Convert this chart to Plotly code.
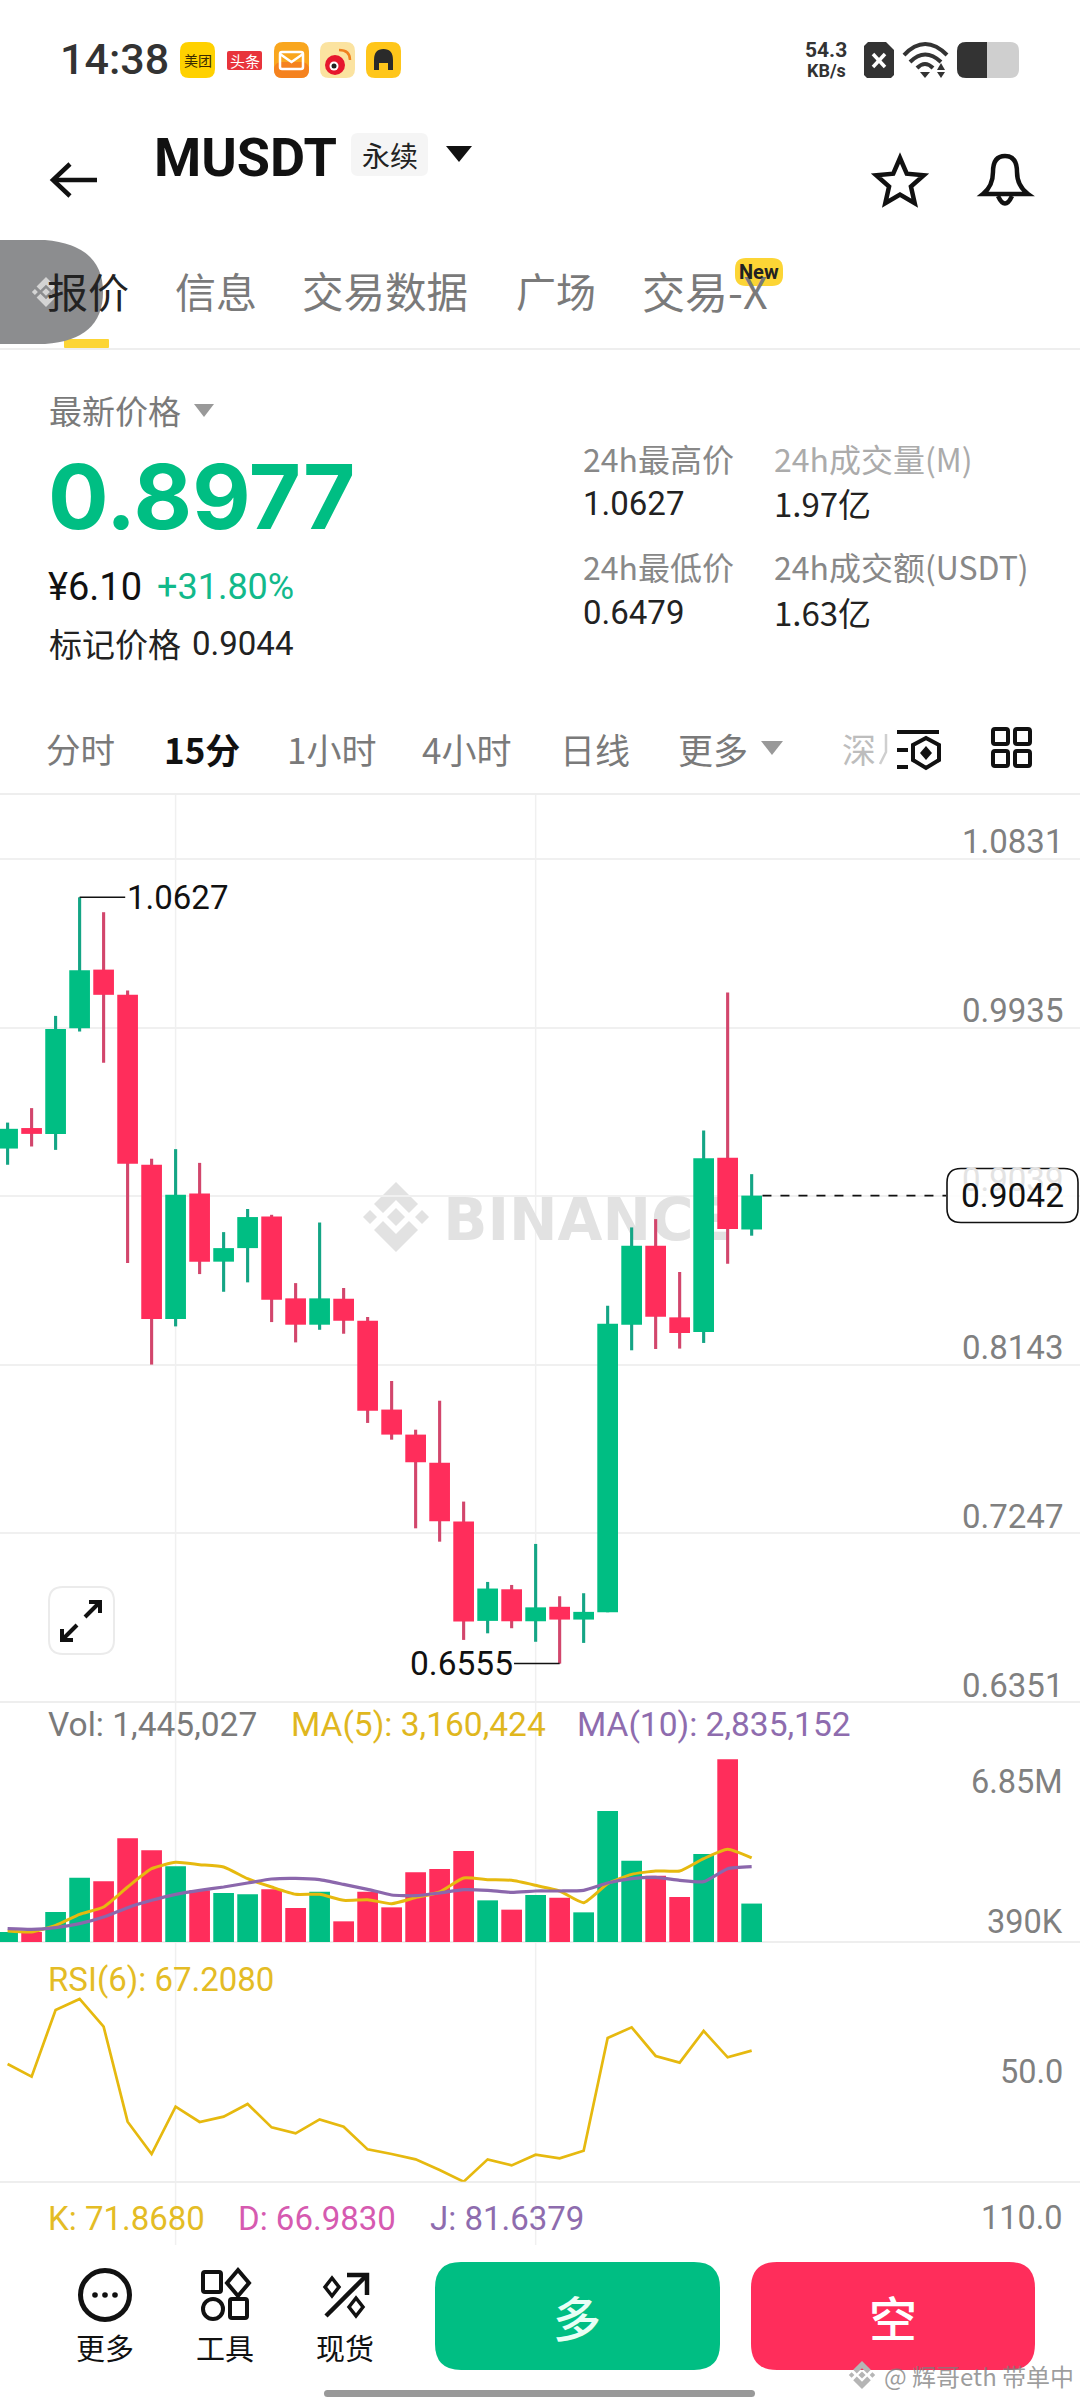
import math
import plotly.graph_objects as go

W = 1080
H = 2400
FONTE = "Roboto, 'Noto Sans CJK SC', sans-serif"
FONTE_CJK = "'Noto Sans CJK SC', Roboto, sans-serif"

VERDE = '#00BE83'
VERMELHO = '#FF2D5B'
PAVIO_VERDE = '#14A585'
PAVIO_VERMELHO = '#D2466C'
AMARELO = '#E6B90F'
ROXO = '#8B67AC'
GRADE = '#F0F0F0'

# candles de 15 min
velas = list(range(32))
aberturas = [0.9292, 0.9401, 0.9369, 0.9932, 1.0243, 1.0110, 0.9206, 0.8386,
             0.9053, 0.8691, 0.8763, 0.8931, 0.8496, 0.8356, 0.8494, 0.8377,
             0.7905, 0.7772, 0.7623, 0.7310, 0.6782, 0.6950, 0.6780, 0.6857,
             0.6789, 0.6828, 0.8356, 0.8776, 0.8395, 0.8317, 0.9243, 0.8862]
maximas = [0.9430, 0.9507, 0.9997, 1.0627, 1.0548, 1.0132, 0.9238, 0.9289,
           0.9216, 0.8848, 0.8971, 0.8940, 0.8577, 0.8899, 0.8551, 0.8397,
           0.8057, 0.7798, 0.7952, 0.7416, 0.6989, 0.6973, 0.7191, 0.6913,
           0.6929, 0.8457, 0.8873, 0.8917, 0.8636, 0.9388, 1.0121, 0.9156]
minimas = [0.9206, 0.9303, 0.9285, 0.9914, 0.9748, 0.8684, 0.8144, 0.8347,
           0.8625, 0.8531, 0.8581, 0.8370, 0.8262, 0.8329, 0.8308, 0.7834,
           0.7745, 0.7274, 0.7203, 0.6681, 0.6716, 0.6743, 0.6671, 0.6555,
           0.6665, 0.6828, 0.8220, 0.8227, 0.8229, 0.8259, 0.8680, 0.8829]
fechamentos = [0.9397, 0.9370, 0.9928, 1.0240, 1.0109, 0.9211, 0.8386, 0.9046,
               0.8691, 0.8763, 0.8928, 0.8489, 0.8356, 0.8496, 0.8377, 0.7899,
               0.7772, 0.7625, 0.7311, 0.6779, 0.6954, 0.6780, 0.6854, 0.6789,
               0.6830, 0.8361, 0.8776, 0.8398, 0.8312, 0.9241, 0.8864, 0.9042]

# volume em milhoes
volumes = [0.376, 0.376, 1.128, 2.419, 2.281, 3.898, 3.447, 2.845,
           1.942, 1.842, 1.792, 1.980, 1.278, 1.893, 0.777, 1.893,
           1.303, 2.619, 2.745, 3.422, 1.566, 1.216, 1.767, 1.667,
           1.115, 4.926, 3.058, 2.494, 1.692, 3.309, 6.868, 1.445]
ma5 = [0.414, 0.376, 0.627, 1.040, 1.316, 2.068, 2.757, 2.995,
       2.908, 2.820, 2.381, 2.068, 1.792, 1.792, 1.567, 1.592,
       1.441, 1.667, 1.880, 2.406, 2.344, 2.319, 2.131, 1.918,
       1.479, 2.193, 2.544, 2.670, 2.670, 3.133, 3.484, 3.160]
ma10 = [0.501, 0.476, 0.539, 0.689, 0.940, 1.291, 1.567, 1.792,
        1.943, 2.068, 2.218, 2.369, 2.394, 2.344, 2.168, 1.980,
        1.767, 1.742, 1.842, 1.968, 1.943, 1.867, 1.918, 1.918,
        1.943, 2.218, 2.381, 2.431, 2.319, 2.268, 2.757, 2.835]
rsi6 = [61.18, 55.46, 85.59, 90.56, 78.06, 35.12, 20.50, 41.90,
        34.97, 37.38, 43.10, 32.55, 29.84, 36.17, 32.86, 22.61,
        20.50, 18.09, 13.27, 8.00, 18.09, 15.38, 20.20, 18.54,
        22.01, 72.93, 77.76, 64.80, 61.79, 76.10, 64.19, 67.21]

ticks_preco = [1.0831, 0.9935, 0.9039, 0.8143, 0.7247, 0.6351]
ticks_preco_txt = ['1.0831', '0.9935', '0.9039', '0.8143', '0.7247', '0.6351']
velas_grade = [7, 22]
ultimo_preco = 0.9042
preco_max = 1.0627
preco_min = 0.6555


def px(x):
    return x / W


def py(y):
    return 1 - y / H


def poly(pontos, fechado=True):
    s = 'M ' + ' L '.join(f'{px(x):.5f} {py(y):.5f}' for x, y in pontos)
    return s + (' Z' if fechado else '')


def curva(cmds):
    # cmds: lista de (letra, coords em pixels)
    partes = []
    for letra, coords in cmds:
        txt = []
        for i in range(0, len(coords), 2):
            txt.append(f'{px(coords[i]):.5f} {py(coords[i + 1]):.5f}')
        partes.append(letra + ' ' + ' '.join(txt))
    return ' '.join(partes)


def rrect(x0, y0, x1, y1, r):
    return curva([('M', [x0 + r, y0]), ('L', [x1 - r, y0]), ('Q', [x1, y0, x1, y0 + r]),
                  ('L', [x1, y1 - r]), ('Q', [x1, y1, x1 - r, y1]), ('L', [x0 + r, y1]),
                  ('Q', [x0, y1, x0, y1 - r]), ('L', [x0, y0 + r]), ('Q', [x0, y0, x0 + r, y0])]) + ' Z'


fig = go.Figure()


def forma(path, fill=None, linha=None, lw=0, layer='above'):
    fig.add_shape(type='path', path=path, xref='paper', yref='paper', layer=layer,
                  fillcolor=fill if fill else 'rgba(0,0,0,0)',
                  line=dict(color=linha if linha else 'rgba(0,0,0,0)', width=lw))


def circulo(cx, cy, r, fill=None, linha=None, lw=0):
    fig.add_shape(type='circle', xref='paper', yref='paper',
                  x0=px(cx - r), x1=px(cx + r), y0=py(cy + r), y1=py(cy - r),
                  fillcolor=fill if fill else 'rgba(0,0,0,0)',
                  line=dict(color=linha if linha else 'rgba(0,0,0,0)', width=lw))


def traco(pontos, cor, lw):
    forma(poly(pontos, fechado=False), linha=cor, lw=lw)


def texto(x, y, txt, tam, cor, anchor='left', fonte=FONTE, peso='normal'):
    fig.add_annotation(x=px(x), y=py(y), xref='paper', yref='paper', text=txt, showarrow=False,
                       xanchor=anchor, yanchor='middle', borderpad=0,
                       font=dict(family=fonte, size=tam, color=cor, weight=peso))


def logo(cx, cy, s, cor, layer='above'):
    # marca d'agua em losangos
    k = s / 35

    def los(dx, dy, r):
        return [(cx + (dx + r) * k, cy + dy * k), (cx + dx * k, cy + (dy + r) * k),
                (cx + (dx - r) * k, cy + dy * k), (cx + dx * k, cy + (dy - r) * k)]
    forma(poly(los(0, 0, 9)), fill=cor, layer=layer)
    forma(poly(los(-26, 0, 7)), fill=cor, layer=layer)
    forma(poly(los(26, 0, 7)), fill=cor, layer=layer)
    for sin in (-1, 1):
        pts = [(0, 35), (22, 13), (13, 4), (0, 17), (-13, 4), (-22, 13)]
        forma(poly([(cx + a * k, cy + sin * b * k) for a, b in pts]), fill=cor, layer=layer)


# ---------- graficos ----------
cores_corpo = [VERDE if c >= a else VERMELHO for a, c in zip(aberturas, fechamentos)]
cores_pavio = [PAVIO_VERDE if c >= a else PAVIO_VERMELHO for a, c in zip(aberturas, fechamentos)]

# texto da marca d'agua fica num eixo por baixo das velas
fig.add_trace(go.Scatter(x=[18.15], y=[0.5246], xaxis='x', yaxis='y4', mode='text', text=['BINANCE'],
                         textposition='middle right', hoverinfo='skip',
                         textfont=dict(family='DejaVu Sans', size=58, color='#E2E2E2', weight='bold')))

fig.add_trace(go.Bar(x=velas, base=minimas, y=[a - b for a, b in zip(maximas, minimas)], width=0.13,
                     marker=dict(color=cores_pavio, line_width=0), xaxis='x', yaxis='y'))
fig.add_trace(go.Bar(x=velas, base=[min(a, c) for a, c in zip(aberturas, fechamentos)],
                     y=[abs(a - c) for a, c in zip(aberturas, fechamentos)], width=0.8625,
                     marker=dict(color=cores_corpo, line_width=0), xaxis='x', yaxis='y'))

fig.add_trace(go.Bar(x=velas, y=volumes, width=0.8625, marker=dict(color=cores_corpo, line_width=0),
                     xaxis='x', yaxis='y2'))
fig.add_trace(go.Scatter(x=velas, y=ma5, mode='lines', xaxis='x', yaxis='y2', cliponaxis=False,
                         line=dict(color=AMARELO, width=3, shape='spline', smoothing=0.5)))
fig.add_trace(go.Scatter(x=velas, y=ma10, mode='lines', xaxis='x', yaxis='y2', cliponaxis=False,
                         line=dict(color=ROXO, width=3.2, shape='spline', smoothing=0.5)))

fig.add_trace(go.Scatter(x=velas, y=rsi6, mode='lines', xaxis='x', yaxis='y3', cliponaxis=False,
                         line=dict(color=AMARELO, width=2.7)))

fig.update_layout(
    width=W, height=H, margin=dict(l=0, r=0, t=0, b=0, pad=0),
    paper_bgcolor='white', plot_bgcolor='rgba(0,0,0,0)',
    showlegend=False, barmode='overlay',
    xaxis=dict(domain=[0, 1], range=[-0.3167, 44.68], visible=False),
    yaxis=dict(domain=[py(1702), py(793)], range=[0.6351, 1.11815], overlaying='y4',
               tickvals=ticks_preco, showticklabels=False, gridcolor=GRADE, gridwidth=1.5,
               zeroline=False, showline=False, ticks=''),
    yaxis2=dict(domain=[py(1942), py(1702)], range=[0, 9.024], visible=False),
    yaxis3=dict(domain=[py(2181.7), py(1942)], range=[8.0, 116.3], visible=False),
    yaxis4=dict(domain=[py(1702), py(793)], range=[0, 1], visible=False),
)

# grade vertical e divisorias
for v in velas_grade:
    fig.add_shape(type='line', xref='x', yref='paper', x0=v, x1=v, y0=py(2245), y1=py(793),
                  layer='below', line=dict(color=GRADE, width=1.5))
for y in [349, 794, 1702, 1942, 2182]:
    fig.add_shape(type='line', xref='paper', yref='paper', x0=0, x1=1, y0=py(y), y1=py(y),
                  layer='below', line=dict(color='#EEEEEE', width=2))

logo(396, 1217, 35, '#E2E2E2', layer='below')

# rotulos do eixo de preco
for val, txt in zip(ticks_preco, ticks_preco_txt):
    cor = '#E3E3E3' if txt == '0.9039' else '#808080'
    fig.add_annotation(x=px(1064), y=val, xref='paper', yref='y', text=txt, showarrow=False,
                       xanchor='right', yanchor='middle', yshift=17, borderpad=0,
                       font=dict(family=FONTE, size=33, color=cor))

# maxima e minima
fig.add_shape(type='line', xref='x', yref='y', x0=3, x1=4.9, y0=preco_max, y1=preco_max,
              line=dict(color='#111111', width=1.5))
fig.add_annotation(x=4.92, y=preco_max, xref='x', yref='y', text=f'{preco_max:.4f}', showarrow=False,
                   xanchor='left', yanchor='middle', borderpad=0, font=dict(family=FONTE, size=33, color='#111111'))
fig.add_shape(type='line', xref='x', yref='y', x0=23, x1=21.1, y0=preco_min, y1=preco_min,
              line=dict(color='#111111', width=1.5))
fig.add_annotation(x=21.08, y=preco_min, xref='x', yref='y', text=f'{preco_min:.4f}', showarrow=False,
                   xanchor='right', yanchor='middle', borderpad=0, font=dict(family=FONTE, size=33.5, color='#111111'))

# ultimo preco
fig.add_shape(type='line', xref='x', yref='y', x0=31.45, x1=39.1, y0=ultimo_preco, y1=ultimo_preco,
              line=dict(color='#111111', width=1.8, dash='dash'))
fig.add_shape(type='path', xref='paper', yref='paper', path=rrect(947, 1168.5, 1078, 1222.5, 14),
              fillcolor='rgba(255,255,255,0.86)', line=dict(color='#111111', width=1.6))
fig.add_annotation(x=px(1012.5), y=ultimo_preco, xref='paper', yref='y', text=f'{ultimo_preco:.4f}', showarrow=False,
                   xanchor='center', yanchor='middle', borderpad=0, font=dict(family=FONTE, size=33.5, color='#111111'))

# botao de expandir
forma(rrect(49, 1587, 114, 1654, 14), fill='white', linha='#EBEBEB', lw=2)
traco([(62, 1640), (77, 1625)], '#111111', 4)
traco([(62, 1629), (62, 1640), (73, 1640)], '#111111', 4)
traco([(85, 1617), (100, 1602)], '#111111', 4)
traco([(89, 1602), (100, 1602), (100, 1613)], '#111111', 4)

# legendas dos indicadores
texto(47, 1724, 'Vol: 1,445,027', 33.5, '#7A7A7A')
texto(290, 1724, 'MA(5): 3,160,424', 33.5, '#E0B71E')
texto(576, 1724, 'MA(10): 2,835,152', 33.5, '#8E6CAE')
texto(1064, 1782, '6.85M', 32.5, '#808080', anchor='right')
texto(1064, 1922, '390K', 32.5, '#808080', anchor='right')
texto(47, 1979, 'RSI(6): 67.2080', 33, '#E4BC25')
texto(1064, 2072, '50.0', 32.5, '#808080', anchor='right')
texto(47, 2218, 'K: 71.8680', 33, '#E4BC25')
texto(237, 2218, 'D: 66.9830', 33, '#D65AB0')
texto(429, 2218, 'J: 81.6379', 33, '#8E6CAE')
texto(1064, 2218, '110.0', 32.5, '#808080', anchor='right')

# ---------- barra de status ----------
texto(59, 59, '14:38', 43, '#333333', peso=500)
forma(rrect(180, 42, 215, 78, 9), fill='#FFD100')
texto(197.5, 60, '美团', 14, '#3A2A00', anchor='center', fonte=FONTE_CJK)
forma(rrect(227, 51, 262, 70, 2), fill='#E8343C')
texto(244.5, 60, '头条', 15, 'white', anchor='center', fonte=FONTE_CJK)
forma(rrect(274, 42, 309, 78, 9), fill='#F9A61E')
forma(rrect(274, 62, 309, 78, 8), fill='#F5821F')
forma(rrect(280, 52, 303, 69, 2), linha='white', lw=2.5)
traco([(280, 54), (291.5, 62), (303, 54)], 'white', 2.5)
forma(rrect(320, 42, 355, 78, 9), fill='#FBE3A0')
circulo(335, 65, 10, fill='#E6162D')
circulo(334, 66, 4.5, fill='white')
circulo(334, 66, 2.5, fill='#222222')
forma(curva([('M', [339, 50]), ('Q', [350, 50, 350, 60])]), linha='#F0801E', lw=2.5)
forma(rrect(366, 42, 401, 78, 9), fill='#FFC61A')
forma(curva([('M', [374, 70]), ('L', [374, 60]), ('Q', [374, 49, 383.5, 49]), ('Q', [393, 49, 393, 60]),
             ('L', [393, 70]), ('L', [388, 70]), ('L', [388, 63]), ('L', [379, 63]), ('L', [379, 70])]) + ' Z',
      fill='#2A2A2A')

texto(826, 50, '<b>54.3</b>', 21, '#333333', anchor='center')
texto(826, 71, '<b>KB/s</b>', 18, '#333333', anchor='center')
forma(poly([(864, 46), (868, 42), (886, 42), (894, 50), (894, 75), (891, 78), (867, 78), (864, 75)]), fill='#333333')
traco([(873, 54), (885, 67)], 'white', 3.5)
traco([(885, 54), (873, 67)], 'white', 3.5)
forma(curva([('M', [904, 55]), ('Q', [925, 33, 947, 55])]), linha='#333333', lw=4)
forma(curva([('M', [910, 62]), ('Q', [925, 47, 941, 62])]), linha='#333333', lw=4)
forma(curva([('M', [917, 68]), ('Q', [925, 60, 933, 68])]), linha='#333333', lw=4)
forma(poly([(920, 72), (930, 72), (925, 78)]), fill='#333333')
forma(poly([(937, 70), (945, 70), (941, 63)]), fill='#333333')
forma(poly([(937, 72), (945, 72), (941, 78)]), fill='#333333')
forma(rrect(957, 42, 1019, 78, 9), fill='#CFCFCF')
forma(curva([('M', [966, 42]), ('L', [987, 42]), ('L', [987, 78]), ('L', [966, 78]), ('Q', [957, 78, 957, 69]),
             ('L', [957, 51]), ('Q', [957, 42, 966, 42])]) + ' Z', fill='#333333')

# ---------- cabecalho ----------
traco([(53, 180), (97, 180)], '#111111', 4.5)
traco([(70, 164), (53, 180), (70, 196)], '#111111', 4.5)
texto(153, 157, '<b>MUSDT</b>', 54, '#111111')
forma(rrect(351, 133, 428, 176, 7), fill='#F5F5F5')
texto(389.5, 155, '永续', 28, '#222222', anchor='center', fonte=FONTE_CJK)
forma(poly([(446, 146), (472, 146), (459, 162)]), fill='#111111')

pts_estrela = []
for i in range(10):
    raio = 25 if i % 2 == 0 else 11.5
    ang = -math.pi / 2 + i * math.pi / 5
    pts_estrela.append((900 + raio * math.cos(ang), 183 + raio * math.sin(ang)))
forma(poly(pts_estrela), linha='#111111', lw=4.5)
forma(curva([('M', [983, 194]), ('Q', [993, 186, 993, 172]), ('Q', [993, 156, 1005, 156]),
             ('Q', [1017, 156, 1017, 172]), ('Q', [1017, 186, 1028, 194])]) + ' Z', linha='#111111', lw=4.5)
forma(curva([('M', [998, 196]), ('Q', [1005, 211, 1012, 196])]), linha='#111111', lw=4.5)

# abas
forma(rrect(64, 339, 109, 348, 1), fill='#FCD535')
forma(curva([('M', [0, 240]), ('L', [45, 240]), ('Q', [103, 245, 103, 292]), ('Q', [103, 340, 45, 344]), ('L', [0, 344])]) + ' Z',
      fill='#8C8D8F')
logo(46, 292, 15, '#D4D4D4')
texto(46, 290, '报价', 41, '#222222', fonte=FONTE_CJK)
texto(174, 290, '信息', 41, '#7A7A7A', fonte=FONTE_CJK)
texto(301, 290, '交易数据', 41.5, '#7A7A7A', fonte=FONTE_CJK)
texto(515, 290, '广场', 40, '#7A7A7A', fonte=FONTE_CJK)
texto(641, 290, '交易-X', 43, '#7A7A7A', fonte=FONTE_CJK)
forma(rrect(735, 258, 783, 286, 11), fill='#FCD535')
texto(759, 272, '<b>New</b>', 20, '#222222', anchor='center')

# ---------- resumo ----------
texto(48, 410, '最新价格', 33, '#7A7A7A', fonte=FONTE_CJK)
forma(poly([(194, 404), (214, 404), (204, 417)]), fill='#999999')
texto(47, 497, '<b>0.8977</b>', 90, VERDE, fonte="Inter, Roboto, sans-serif")
texto(47, 587, '¥6.10', 38, '#111111')
texto(156, 587, '+31.80%', 36, '#12B98B')
texto(48, 643, '标记价格', 33, '#222222', fonte=FONTE_CJK)
texto(191, 643, '0.9044', 33, '#222222')
texto(582, 458, '24h最高价', 32, '#888888', fonte=FONTE_CJK)
texto(773, 458, '24h成交量(M)', 32, '#ABABAB', fonte=FONTE_CJK)
texto(582, 503, '1.0627', 33, '#222222')
texto(773, 503, '1.97亿', 33, '#222222', fonte=FONTE_CJK)
texto(582, 566, '24h最低价', 32, '#888888', fonte=FONTE_CJK)
texto(773, 566, '24h成交额(USDT)', 32, '#888888', fonte=FONTE_CJK)
texto(582, 612, '0.6479', 33, '#222222')
texto(773, 612, '1.63亿', 33, '#222222', fonte=FONTE_CJK)

# intervalos
texto(45, 748, '分时', 34.5, '#7A7A7A', fonte=FONTE_CJK)
texto(163, 748, '<b>15分</b>', 35, '#111111', fonte=FONTE_CJK)
texto(286, 748, '1小时', 35, '#7A7A7A', fonte=FONTE_CJK)
texto(421, 748, '4小时', 35, '#7A7A7A', fonte=FONTE_CJK)
texto(559, 748, '日线', 35, '#7A7A7A', fonte=FONTE_CJK)
texto(677, 748, '更多', 35, '#7A7A7A', fonte=FONTE_CJK)
forma(poly([(761, 741), (783, 741), (772, 755)]), fill='#999999')
texto(841, 748, '深', 34, '#BDBDBD', fonte=FONTE_CJK)
traco([(886, 734), (886, 752), (880, 764)], '#CFCFCF', 2.5)
traco([(897, 732), (939, 732)], '#111111', 4)
traco([(897, 750), (908, 750)], '#111111', 4)
traco([(897, 767), (908, 767)], '#111111', 4)
forma(poly([(926, 738), (939, 745), (939, 760), (926, 768), (913, 760), (913, 745)]), linha='#111111', lw=4)
forma(poly([(926, 746), (932, 753), (926, 760), (920, 753)]), fill='#111111')
for x0, y0 in [(993, 729), (1015, 729), (993, 751), (1015, 751)]:
    forma(rrect(x0, y0, x0 + 15, y0 + 15, 2), linha='#111111', lw=4)

# ---------- rodape ----------
circulo(105, 2295, 24.5, linha='#111111', lw=5)
for cx in (95, 105, 115):
    circulo(cx, 2295, 2.8, fill='#111111')
texto(105, 2347, '更多', 29, '#111111', anchor='center', fonte=FONTE_CJK)
forma(rrect(203, 2272, 221, 2292, 2), linha='#111111', lw=4)
forma(poly([(238, 2270), (249, 2283), (238, 2296), (227, 2283)]), linha='#111111', lw=4)
circulo(213, 2309, 10, linha='#111111', lw=4)
forma(rrect(230, 2299, 247, 2318, 2), linha='#111111', lw=4)
texto(225, 2347, '工具', 29, '#111111', anchor='center', fonte=FONTE_CJK)
traco([(326, 2316), (366, 2276)], '#111111', 4.5)
traco([(347, 2275), (367, 2275), (367, 2295)], '#111111', 4.5)
forma(poly([(332, 2278), (339, 2287), (332, 2296), (325, 2287)]), linha='#111111', lw=3.5)
forma(poly([(356, 2298), (363, 2307), (356, 2316), (349, 2307)]), linha='#111111', lw=3.5)
texto(345, 2347, '现货', 29, '#111111', anchor='center', fonte=FONTE_CJK)

forma(rrect(435, 2262, 720, 2370, 26), fill=VERDE)
texto(577, 2316, '多', 48, '#E8FFF6', anchor='center', fonte=FONTE_CJK, peso=500)
forma(rrect(751, 2262, 1035, 2370, 26), fill=VERMELHO)
texto(893, 2316, '空', 48, 'white', anchor='center', fonte=FONTE_CJK, peso=500)

logo(862, 2375, 14, '#B5B5B5')
texto(883, 2375, '@ 辉哥eth 带单中', 24, 'rgba(125,125,125,0.75)', fonte=FONTE_CJK)
forma(rrect(324, 2390, 755, 2397, 3.5), fill='#999999')

fig.write_html("out.html", config={'displayModeBar': False},
               post_script="document.body.style.margin='0';document.body.style.overflow='hidden';")
